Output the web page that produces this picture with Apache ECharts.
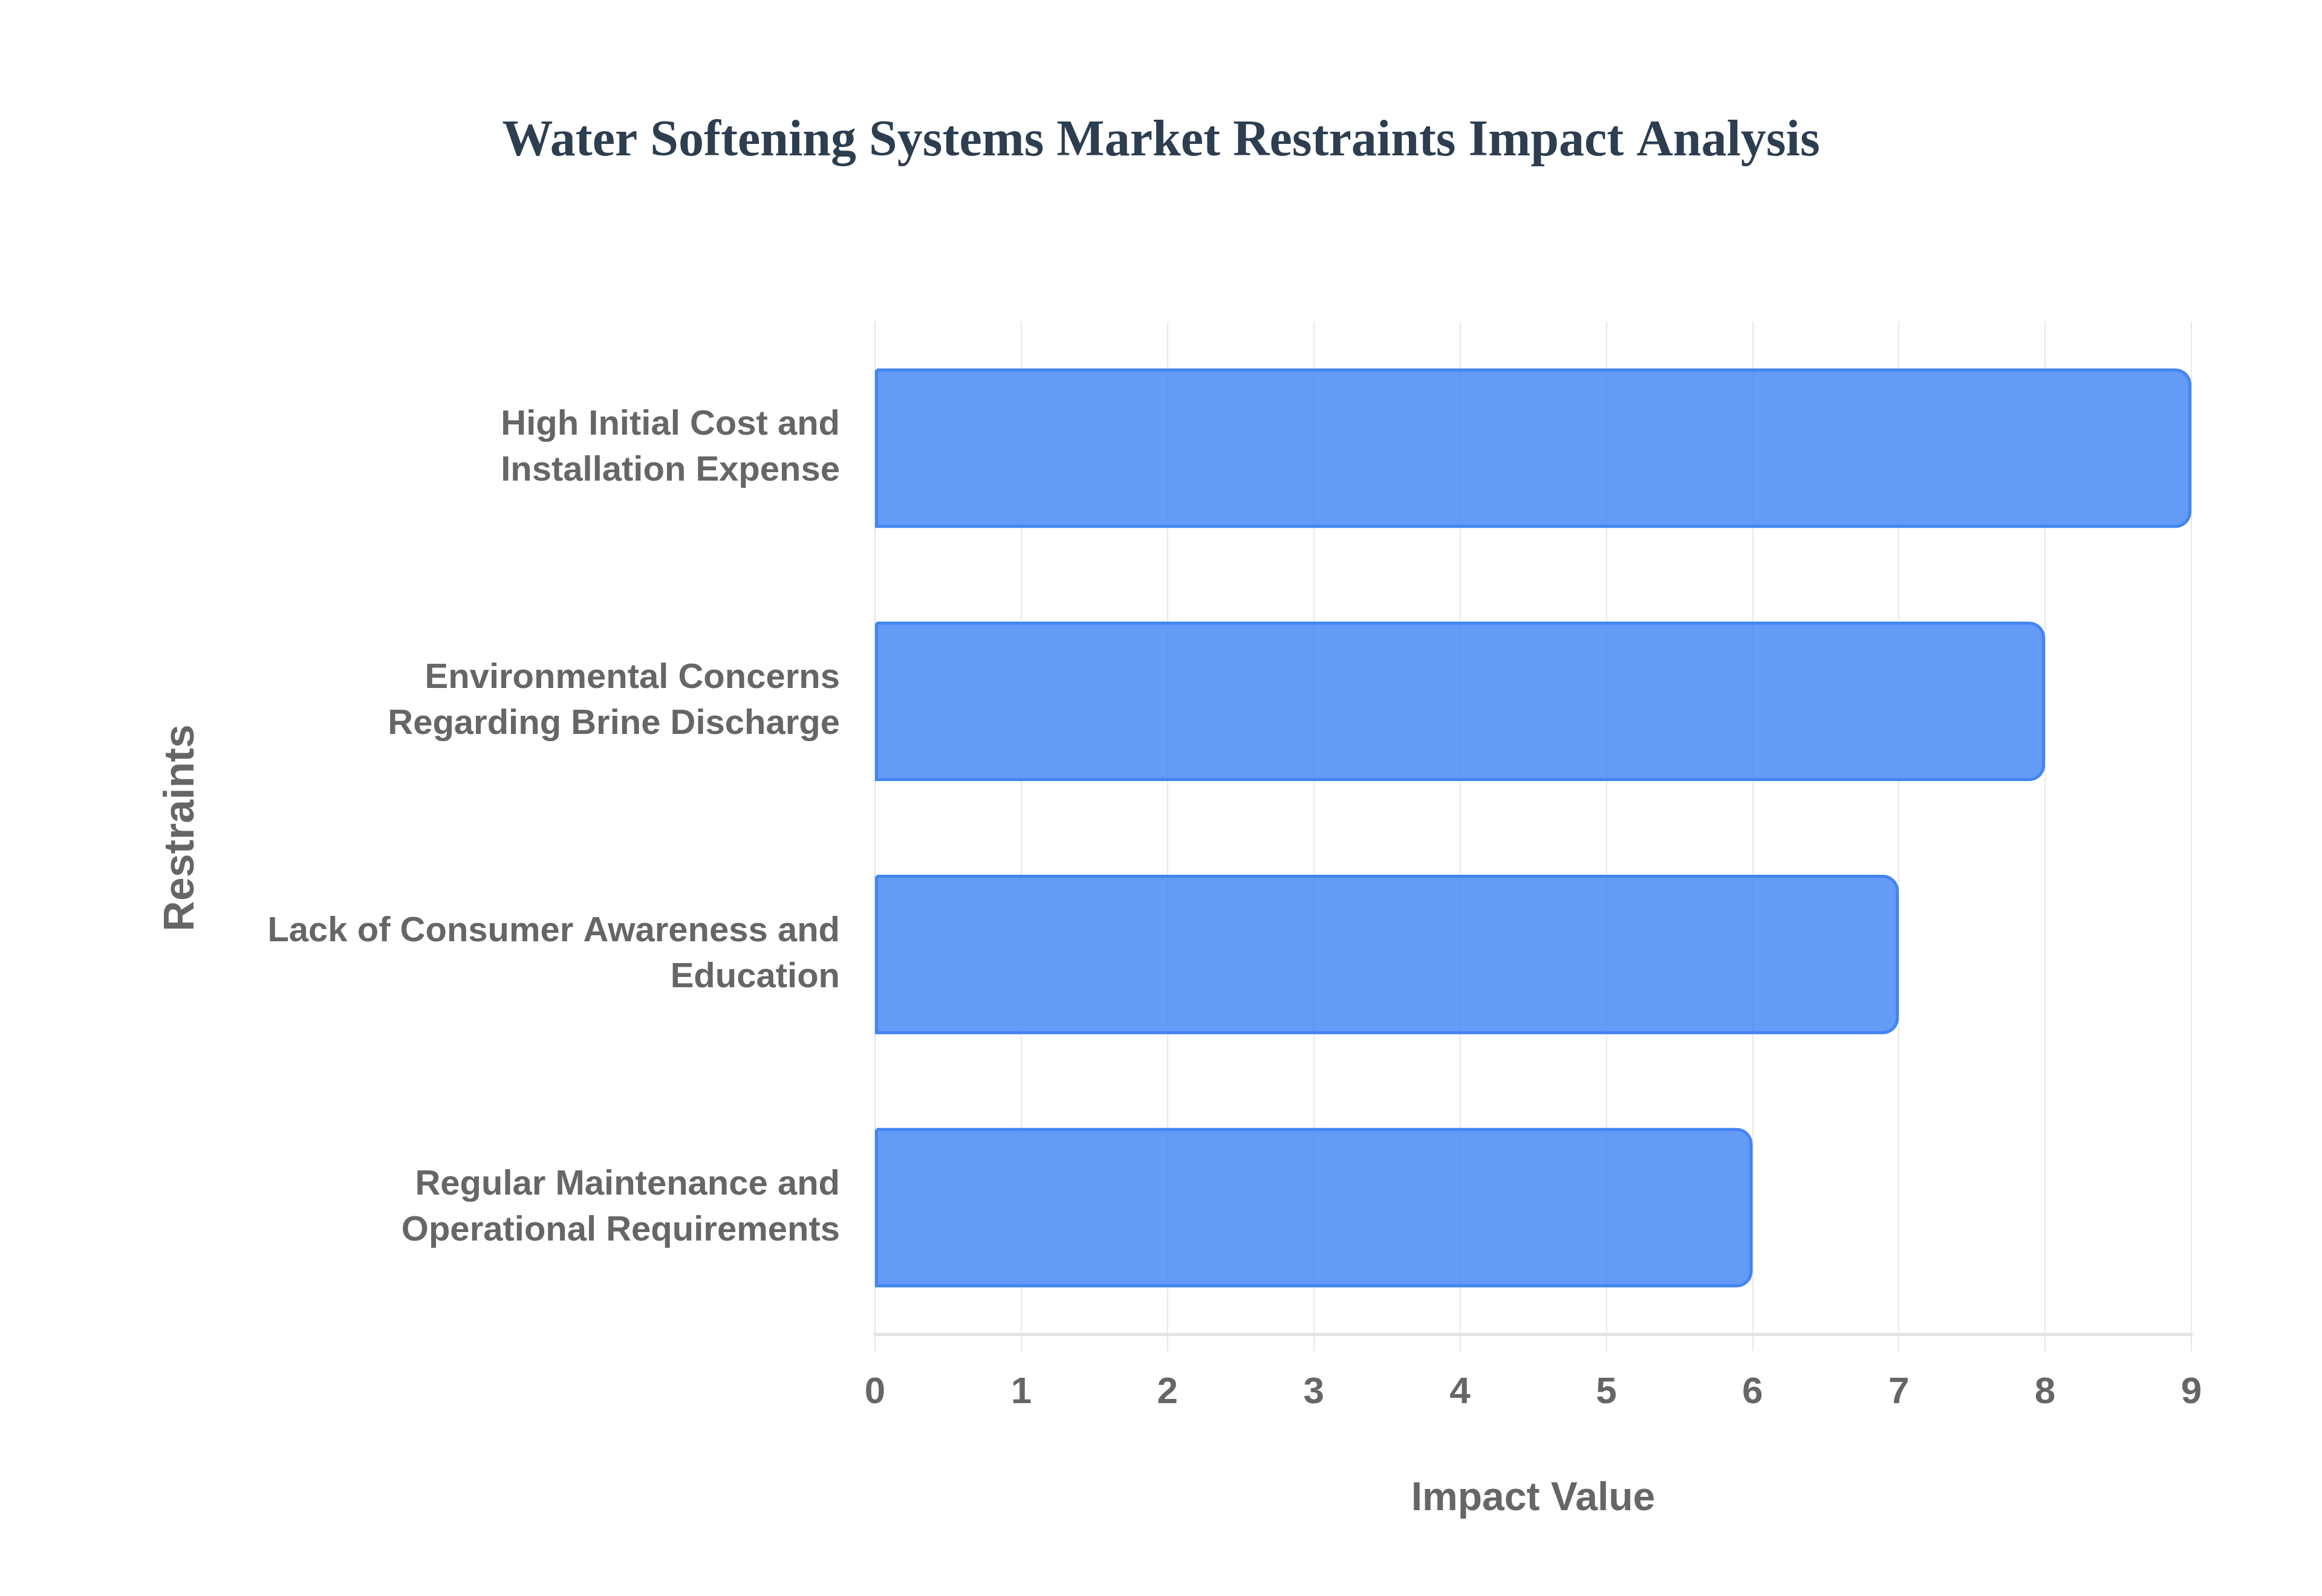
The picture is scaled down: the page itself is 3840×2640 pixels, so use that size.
<!DOCTYPE html>
<html>
<head>
<meta charset="utf-8">
<script src="https://cdn.jsdelivr.net/npm/echarts@6/dist/echarts.min.js"></script>
<style>
  html, body { margin: 0; padding: 0; background: #ffffff; }
  #chart { width: 3840px; height: 2640px; }
</style>
</head>
<body>
<div id="chart"></div>
<script>
// Data (top to bottom as displayed)
var titleText = 'Water Softening Systems Market Restraints Impact Analysis';
var categories = [
  'High Initial Cost and\nInstallation Expense',
  'Environmental Concerns\nRegarding Brine Discharge',
  'Lack of Consumer Awareness and\nEducation',
  'Regular Maintenance and\nOperational Requirements'
];
var impactValues = [9, 8, 7, 6];
var xAxisName = 'Impact Value';
var yAxisName = 'Restraints';

var chart = echarts.init(document.getElementById('chart'));
var sans = '"Liberation Sans", Arial, Helvetica, sans-serif';
chart.setOption({
  backgroundColor: '#ffffff',
  animation: false,
  title: {
    text: titleText,
    left: 'center',
    top: 188,
    textStyle: {
      fontFamily: '"Liberation Serif", "Times New Roman", serif',
      fontWeight: 'bold',
      fontSize: 84,
      color: '#2c3e50'
    }
  },
  grid: { left: 1447, right: 216, top: 532, bottom: 433, containLabel: false },
  xAxis: {
    type: 'value',
    min: 0,
    max: 9,
    interval: 1,
    name: xAxisName,
    nameLocation: 'middle',
    nameGap: 240,
    nameTextStyle: { fontFamily: sans, fontWeight: 'bold', fontSize: 66, color: '#666666' },
    axisLine: { show: true, lineStyle: { color: '#e3e3e3', width: 5 } },
    axisTick: { show: true, length: 28, lineStyle: { color: '#e6e6e6', width: 2 } },
    axisLabel: { margin: 66, fontFamily: sans, fontWeight: 'bold', fontSize: 62, color: '#666666' },
    splitLine: { show: true, lineStyle: { color: '#e8e8e8', width: 2 } }
  },
  yAxis: {
    type: 'category',
    data: categories,
    inverse: true,
    name: yAxisName,
    nameLocation: 'middle',
    nameGap: 1111,
    nameRotate: 90,
    nameTextStyle: { fontFamily: sans, fontWeight: 'bold', fontSize: 70, color: '#666666' },
    axisLine: { show: true, lineStyle: { color: '#e3e3e3', width: 2 } },
    axisTick: { show: false },
    axisLabel: {
      margin: 58,
      fontFamily: sans,
      fontWeight: 'bold',
      fontSize: 58,
      lineHeight: 76,
      color: '#666666',
      align: 'right'
    },
    splitLine: { show: false }
  },
  series: [{
    type: 'bar',
    data: impactValues,
    barWidth: '63%',
    itemStyle: {
      color: 'rgba(66,133,244,0.82)',
      borderColor: '#4285F4',
      borderWidth: 5,
      borderRadius: [0, 24, 24, 0]
    }
  }]
});
</script>
</body>
</html>
